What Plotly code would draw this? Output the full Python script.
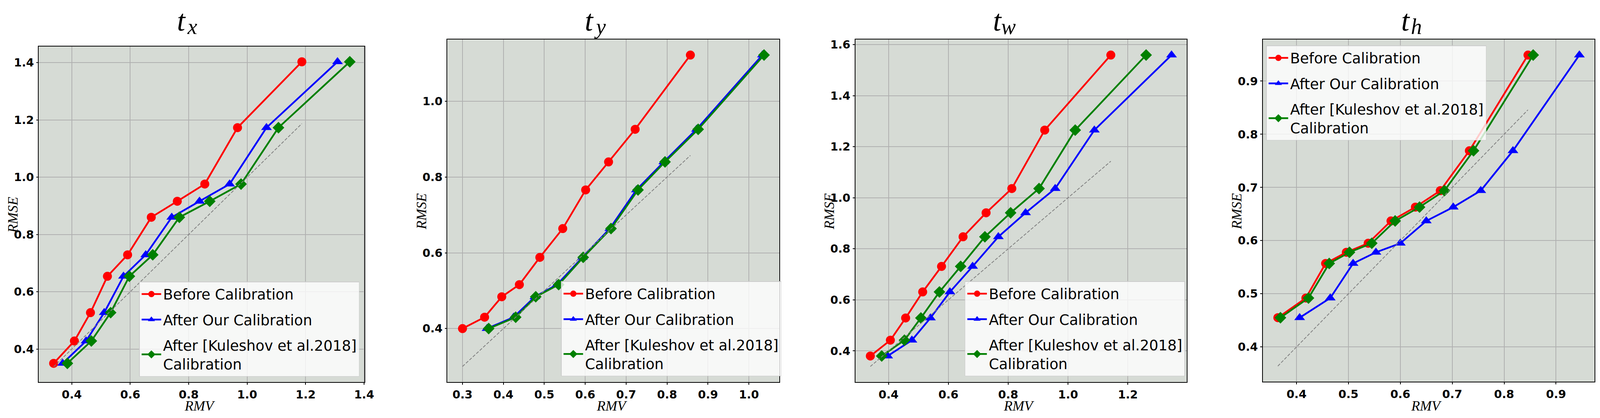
import plotly.graph_objects as go

# The photographed area is ~4096 px wide; the page body adds an 8 px margin.
REF_W, REF_H = 4327, 1069
SX = 4096 / REF_W
OFF = 8
WF, HF = 4096 - OFF, REF_H - OFF


def fx(X):
    return (X * SX - OFF) / WF


def fy(Y):
    return 1 - (Y - OFF) / HF


# ---------------- data ----------------
panel_names = ["x", "y", "w", "h"]

rmse_tx = [0.350, 0.428, 0.527, 0.654, 0.729, 0.860, 0.916, 0.976, 1.173, 1.403]
rmv_tx_before = [0.338, 0.409, 0.464, 0.522, 0.591, 0.672, 0.761, 0.855, 0.967, 1.187]
rmv_tx_ours = [0.369, 0.449, 0.511, 0.577, 0.653, 0.742, 0.837, 0.940, 1.066, 1.309]
rmv_tx_kul = [0.385, 0.467, 0.533, 0.597, 0.677, 0.768, 0.872, 0.979, 1.107, 1.351]

rmse_ty = [0.400, 0.430, 0.484, 0.516, 0.588, 0.664, 0.766, 0.840, 0.926, 1.122]
rmv_ty_before = [0.300, 0.354, 0.396, 0.439, 0.489, 0.545, 0.601, 0.657, 0.722, 0.857]
rmv_ty_ours = [0.360, 0.425, 0.477, 0.531, 0.593, 0.660, 0.725, 0.792, 0.872, 1.033]
rmv_ty_kul = [0.364, 0.430, 0.479, 0.535, 0.595, 0.663, 0.729, 0.795, 0.876, 1.037]

rmse_tw = [0.380, 0.442, 0.529, 0.631, 0.731, 0.847, 0.941, 1.036, 1.265, 1.559]
rmv_tw_before = [0.339, 0.406, 0.457, 0.514, 0.577, 0.649, 0.726, 0.812, 0.922, 1.143]
rmv_tw_ours = [0.397, 0.478, 0.540, 0.605, 0.681, 0.767, 0.858, 0.957, 1.088, 1.346]
rmv_tw_kul = [0.377, 0.453, 0.508, 0.570, 0.641, 0.722, 0.808, 0.903, 1.024, 1.261]

rmse_th = [0.455, 0.492, 0.557, 0.578, 0.595, 0.637, 0.663, 0.694, 0.769, 0.949]
rmv_th_before = [0.364, 0.418, 0.456, 0.496, 0.538, 0.582, 0.629, 0.677, 0.733, 0.846]
rmv_th_ours = [0.406, 0.465, 0.509, 0.553, 0.600, 0.650, 0.702, 0.755, 0.817, 0.945]
rmv_th_kul = [0.369, 0.423, 0.463, 0.502, 0.545, 0.590, 0.637, 0.685, 0.741, 0.856]

series_names = ["Before Calibration", "After Our Calibration",
                "After [Kuleshov et al.2018]<br>Calibration"]

x_dticks = [0.2, 0.1, 0.2, 0.1]
y_dticks = [0.2, 0.2, 0.2, 0.1]

panels = [
    (rmse_tx, [rmv_tx_before, rmv_tx_ours, rmv_tx_kul]),
    (rmse_ty, [rmv_ty_before, rmv_ty_ours, rmv_ty_kul]),
    (rmse_tw, [rmv_tw_before, rmv_tw_ours, rmv_tw_kul]),
    (rmse_th, [rmv_th_before, rmv_th_ours, rmv_th_kul]),
]

# ---------------- style / layout ----------------
colors = ["#ff0000", "#0000ff", "#008000"]
symbols = ["circle", "triangle-up", "diamond"]
msizes = [23, 24, 23]
bg = "#d6dbd5"

# plot area boxes in reference pixels: (left, right, top, bottom)
boxes = [(105, 986, 119, 977), (1210, 2107, 101, 977),
         (2313, 3209, 101, 977), (3415, 4312, 101, 976)]
title_cx = [508, 1611, 2715, 3818]
ylab_cx = [35, 1140, 2243, 3344]
xlab_cx = [540, 1655, 2756, 3857]

legend_pos = [
    dict(x=972, y=963, xanchor="right", yanchor="bottom"),
    dict(x=2113, y=962, xanchor="right", yanchor="bottom"),
    dict(x=3205, y=962, xanchor="right", yanchor="bottom"),
    dict(x=3424, y=116, xanchor="left", yanchor="top"),
]

serif_it = dict(family="Liberation Serif", color="black", style="italic")

fig = go.Figure()
layout = dict(width=WF, height=HF, autosize=False,
              margin=dict(l=0, r=0, t=0, b=0, pad=0, autoexpand=False),
              paper_bgcolor="white", plot_bgcolor=bg, annotations=[],
              template="none")

for i, (rmse, rmvs) in enumerate(panels):
    k = "" if i == 0 else str(i + 1)
    xa, ya = "x" + k, "y" + k
    leg = "legend" + k
    for j, rmv in enumerate(rmvs):
        fig.add_trace(go.Scatter(
            x=rmv, y=rmse, mode="lines+markers", name=series_names[j],
            line=dict(color=colors[j], width=4.5),
            marker=dict(symbol=symbols[j], size=msizes[j], color=colors[j],
                        line=dict(width=0)),
            xaxis=xa, yaxis=ya, legend=leg, legendgroup="p%dg%d" % (i, j),
            showlegend=True))
    lo, hi = min(rmvs[0]), max(rmvs[0])
    fig.add_trace(go.Scatter(
        x=[lo, hi], y=[lo, hi], mode="lines",
        line=dict(color="#808080", width=2, dash="8px,4px"),
        xaxis=xa, yaxis=ya, showlegend=False, hoverinfo="skip"))

    allx = [v for r in rmvs for v in r] + [lo, hi]
    ally = list(rmse) + [lo, hi]
    xmin, xmax = min(allx), max(allx)
    ymin, ymax = min(ally), max(ally)
    px_ = 0.05 * (xmax - xmin)
    py_ = 0.05 * (ymax - ymin)

    l, r, t, b = boxes[i]
    axis_common = dict(
        automargin=False,
        showline=True, mirror=True, linecolor="black", linewidth=1.5,
        showgrid=True, gridcolor="#b0b0b0", gridwidth=1.5, zeroline=False,
        ticks="outside", ticklen=5, tickwidth=1.5, tickcolor="black",
        tickformat=".1f",
        tickfont=dict(family="DejaVu Sans", size=29, color="black", weight="bold"),
    )
    layout["xaxis" + k] = dict(
        axis_common, domain=[fx(l), fx(r)], anchor=ya,
        range=[xmin - px_, xmax + px_], dtick=x_dticks[i], tick0=0)
    layout["yaxis" + k] = dict(
        axis_common, domain=[fy(b), fy(t)], anchor=xa,
        range=[ymin - py_, ymax + py_], dtick=y_dticks[i], tick0=0)

    lp = legend_pos[i]
    layout[leg] = dict(
        x=fx(lp["x"]), y=fy(lp["y"]), xanchor=lp["xanchor"],
        yanchor=lp["yanchor"], xref="paper", yref="paper",
        bgcolor="rgba(255,255,255,0.8)", bordercolor="#cccccc", borderwidth=1.5,
        font=dict(family="DejaVu Sans", size=37, color="black"),
        itemsizing="trace", itemwidth=50,
        traceorder="grouped", tracegroupgap=14)

    # panel title: t with a subscript letter, as two plain italic texts
    cx = title_cx[i]
    layout["annotations"].append(dict(
        text="t", x=fx(cx - 17), y=1, xref="paper", yref="paper",
        xanchor="center", yanchor="top", showarrow=False,
        font=dict(serif_it, size=76)))
    layout["annotations"].append(dict(
        text=panel_names[i], x=fx(cx + 12), y=fy(101), xref="paper",
        yref="paper", xanchor="center", yanchor="bottom", showarrow=False,
        font=dict(serif_it, size=56)))
    layout["annotations"].append(dict(
        text="RMSE", textangle=-90,
        x=fx(ylab_cx[i]), y=fy((t + b) / 2 + 2), xref="paper", yref="paper",
        xanchor="center", yanchor="middle", showarrow=False,
        font=dict(serif_it, size=36)))
    layout["annotations"].append(dict(
        text="RMV",
        x=fx(xlab_cx[i]), y=fy(1038), xref="paper", yref="paper",
        xanchor="center", yanchor="middle", showarrow=False,
        font=dict(serif_it, size=36)))

fig.update_layout(**layout)
fig.write_html("out.html", config={"responsive": False})
